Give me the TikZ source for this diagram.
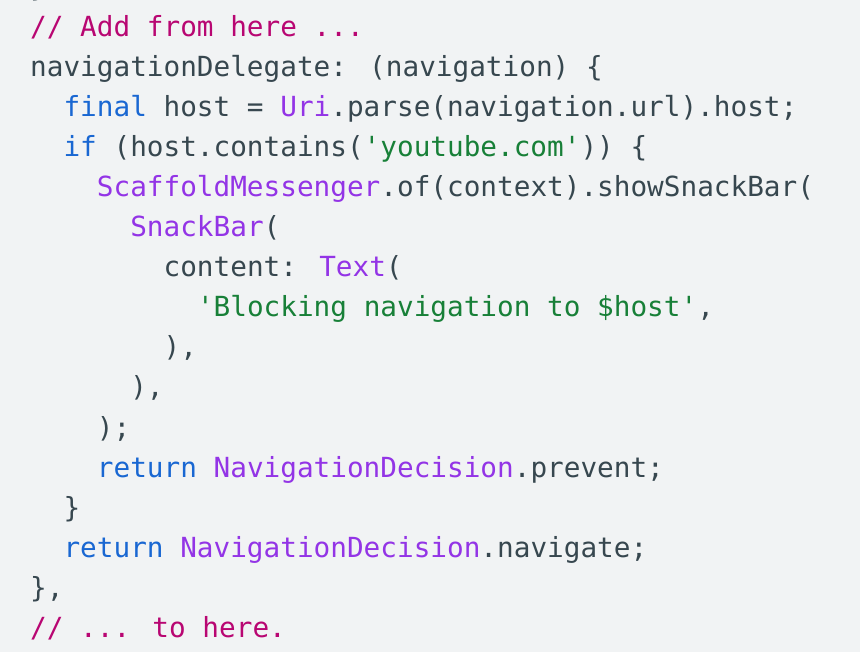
\documentclass[tikz,border=0pt]{standalone}
\usepackage{fontspec}
\newfontfamily\code{DejaVu Sans Mono}
\definecolor{bg}{HTML}{F1F3F4}
\definecolor{txt}{HTML}{37474F}
\definecolor{cm}{HTML}{B80672}
\definecolor{kw}{HTML}{1967D2}
\definecolor{cl}{HTML}{9334E6}
\definecolor{st}{HTML}{188038}
\newcommand{\K}[1]{{\color{kw}#1}}
\newcommand{\Pc}[1]{{\color{cl}#1}}
\newcommand{\Sg}[1]{{\color{st}#1}}
\begin{document}
\begin{tikzpicture}[x=1pt,y=1pt,
  ln/.style={anchor=base west,inner sep=0pt,text=txt,font=\code\fontsize{27.7}{30}\selectfont}]
\fill[bg] (0,0) rectangle (860,-652);
\useasboundingbox (0,0) rectangle (860,-652);
\begin{scope}
\clip (0,0) rectangle (860,-652);
\def\cw{16.68}
\node[ln] (l0) at (30,3) {\},};
\node[ln,text=cm] (l1) at (30,-37) {// Add from here ...};
\node[ln] (l2) at (30,-77) {navigationDelegate: (navigation) \{};
\node[ln] (l3) at (30+2*\cw,-117) {\K{final} host = \Pc{Uri}.parse(navigation.url).host;};
\node[ln] (l4) at (30+2*\cw,-157) {\K{if} (host.contains(\Sg{'youtube.com'})) \{};
\node[ln] (l5) at (30+4*\cw,-197) {\Pc{ScaffoldMessenger}.of(context).showSnackBar(};
\node[ln] (l6) at (30+6*\cw,-237) {\Pc{SnackBar}(};
\node[ln] (l7) at (30+8*\cw,-277) {content: \Pc{Text}(};
\node[ln] (l8) at (30+10*\cw,-317) {\Sg{'Blocking navigation to \$host'},};
\node[ln] (l9) at (30+8*\cw,-357) {),};
\node[ln] (l10) at (30+6*\cw,-397) {),};
\node[ln] (l11) at (30+4*\cw,-437) {);};
\node[ln] (l12) at (30+4*\cw,-477) {\K{return} \Pc{NavigationDecision}.prevent;};
\node[ln] (l13) at (30+2*\cw,-517) {\}};
\node[ln] (l14) at (30+2*\cw,-557) {\K{return} \Pc{NavigationDecision}.navigate;};
\node[ln] (l15) at (30,-597) {\},};
\node[ln,text=cm] (l16) at (30,-637) {// ... to here.};
\end{scope}
\end{tikzpicture}
\end{document}
